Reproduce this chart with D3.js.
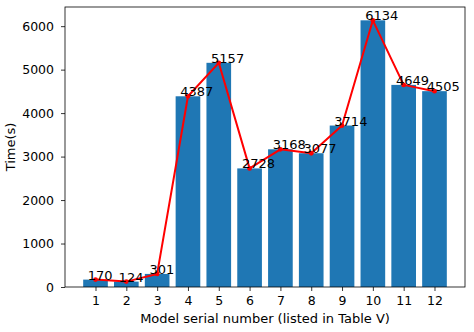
<!DOCTYPE html>
<html>
<head>
<meta charset="utf-8">
<script src="https://cdn.jsdelivr.net/npm/d3@7"></script>
<style>
  html, body { margin: 0; padding: 0; background: #fff; }
  svg { display: block; font-family: "DejaVu Sans", sans-serif; }
</style>
</head>
<body>
<svg id="chart" width="474" height="332"></svg>
<script>
// Run time of each model
const models = [1, 2, 3, 4, 5, 6, 7, 8, 9, 10, 11, 12];
const times = [170, 124, 301, 4387, 5157, 2728, 3168, 3077, 3714, 6134, 4649, 4505];
const yTicks = [0, 1000, 2000, 3000, 4000, 5000, 6000];

const svg = d3.select("#chart");
const plot = { left: 65, right: 465, top: 7, bottom: 287 };

const x = d3.scaleLinear().domain([0.01, 12.99]).range([plot.left, plot.right]);
const y = d3.scaleLinear().domain([0, 6440.7]).range([plot.bottom, plot.top]);
const barW = x(0.8) - x(0);

// bars
svg.append("g").selectAll("rect").data(models).join("rect")
  .attr("x", (d) => x(d - 0.4))
  .attr("y", (d, i) => y(times[i]))
  .attr("width", barW)
  .attr("height", (d, i) => y(0) - y(times[i]))
  .attr("fill", "#1f77b4");

// trend line with point markers
const line = d3.line().x((d) => x(d[0])).y((d) => y(d[1]));
const pts = models.map((m, i) => [m, times[i]]);
svg.append("path").datum(pts)
  .attr("d", line)
  .attr("fill", "none")
  .attr("stroke", "#ff0000")
  .attr("stroke-width", 2)
  .attr("stroke-linejoin", "round");
svg.append("g").selectAll("circle").data(pts).join("circle")
  .attr("cx", (d) => x(d[0]))
  .attr("cy", (d) => y(d[1]))
  .attr("r", 2.4)
  .attr("fill", "#ff0000");

// value labels
svg.append("g").selectAll("text").data(pts).join("text")
  .attr("x", (d) => x(d[0] - 0.25))
  .attr("y", (d) => y(d[1]))
  .attr("font-size", 13)
  .attr("fill", "#000")
  .text((d) => d[1]);

// axes
const xAxis = d3.axisBottom(x).tickValues(models).tickFormat(d3.format("d")).tickSize(4).tickPadding(5);
const yAxis = d3.axisLeft(y).tickValues(yTicks).tickFormat(d3.format("d")).tickSize(4).tickPadding(7);

const gx = svg.append("g").attr("transform", `translate(0,${plot.bottom})`).call(xAxis);
const gy = svg.append("g").attr("transform", `translate(${plot.left},0)`).call(yAxis);
[gx, gy].forEach((g) => {
  g.select(".domain").remove();
  g.selectAll("text").attr("font-size", 12.5).attr("fill", "#000").attr("font-family", "DejaVu Sans, sans-serif");
  g.selectAll("line").attr("stroke", "#000").attr("stroke-width", 0.8);
});

// frame
svg.append("rect")
  .attr("x", plot.left).attr("y", plot.top)
  .attr("width", plot.right - plot.left).attr("height", plot.bottom - plot.top)
  .attr("fill", "none").attr("stroke", "#000").attr("stroke-width", 0.8);

// axis titles
svg.append("text")
  .attr("x", (plot.left + plot.right) / 2)
  .attr("y", 323)
  .attr("text-anchor", "middle")
  .attr("font-size", 13)
  .text("Model serial number (listed in Table V)");
svg.append("text")
  .attr("transform", `translate(15,${(plot.top + plot.bottom) / 2}) rotate(-90)`)
  .attr("text-anchor", "middle")
  .attr("font-size", 13)
  .text("Time(s)");
</script>
</body>
</html>
